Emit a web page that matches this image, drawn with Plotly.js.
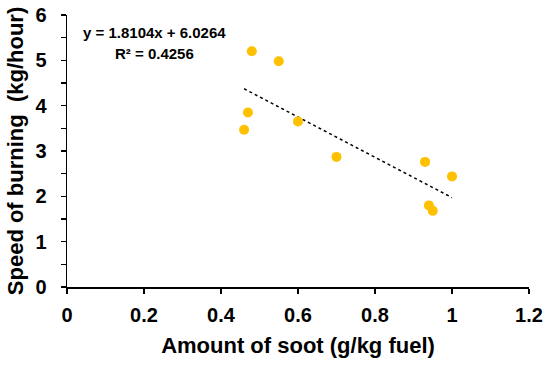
<!DOCTYPE html>
<html>
<head>
<meta charset="utf-8">
<script src="https://cdn.plot.ly/plotly-3.0.1.min.js"></script>
<style>
html,body{margin:0;padding:0;background:#fff;}
#chart{width:550px;height:365px;}
</style>
</head>
<body>
<div id="chart"></div>
<script>
// Data
const sootAmount = [0.48, 0.55, 0.47, 0.46, 0.60, 0.70, 0.93, 1.00, 0.94, 0.95];
const burnSpeed  = [5.20, 4.98, 3.85, 3.47, 3.65, 2.87, 2.76, 2.44, 1.80, 1.68];
const xTickVals = [0, 0.2, 0.4, 0.6, 0.8, 1, 1.2];
const xTickText = ['0', '0.2', '0.4', '0.6', '0.8', '1', '1.2'];
const yTickVals = [0, 1, 2, 3, 4, 5, 6];
const yTickText = ['0', '1', '2', '3', '4', '5', '6'];
const equationText = 'y = 1.8104x + 6.0264';
const r2Text = 'R\u00B2 = 0.4256';

// Linear least-squares trendline computed from the data
const n = sootAmount.length;
const mx = sootAmount.reduce((a, b) => a + b, 0) / n;
const my = burnSpeed.reduce((a, b) => a + b, 0) / n;
let sxy = 0, sxx = 0;
for (let i = 0; i < n; i++) {
  sxy += (sootAmount[i] - mx) * (burnSpeed[i] - my);
  sxx += (sootAmount[i] - mx) ** 2;
}
const slope = sxy / sxx;
const intercept = my - slope * mx;
const trendX = [Math.min(...sootAmount), Math.max(...sootAmount)];
const trendY = trendX.map(v => slope * v + intercept);

const font = 'Liberation Sans, Arial, sans-serif';
const b = s => '<b>' + s + '</b>';

const traces = [
  {x: trendX, y: trendY, mode: 'lines', type: 'scatter', line: {color: '#000000', width: 1.5, dash: 'dot'}, hoverinfo: 'skip', showlegend: false},
  {x: sootAmount, y: burnSpeed, mode: 'markers', type: 'scatter', marker: {color: '#FFC000', size: 10}, showlegend: false}
];

const layout = {
  width: 550, height: 365,
  margin: {l: 67, r: 21, t: 15, b: 78},
  paper_bgcolor: '#ffffff', plot_bgcolor: '#ffffff',
  font: {family: font, color: '#000000'},
  showlegend: false,
  xaxis: {
    range: [0, 1.2], tickvals: xTickVals, ticktext: xTickText.map(b),
    ticks: 'outside', ticklen: 5, tickwidth: 1.5, tickcolor: '#000',
    showline: true, linecolor: '#000', linewidth: 1.5, showgrid: false, zeroline: false,
    ticklabelstandoff: 4,
    tickfont: {family: font, size: 20, color: '#000', weight: 700},
    title: {text: b('Amount of soot (g/kg fuel)'), font: {family: font, size: 22, color: '#000'}, standoff: 13}
  },
  yaxis: {
    range: [0, 6], tickvals: yTickVals, ticktext: yTickText.map(b),
    ticks: 'outside', ticklen: 5, tickwidth: 1.5, tickcolor: '#000',
    minor: {dtick: 0.5, ticks: 'outside', ticklen: 5, tickwidth: 1.5, tickcolor: '#000', showgrid: false},
    showline: true, linecolor: '#000', linewidth: 1.5, showgrid: false, zeroline: false,
    ticklabelstandoff: 10,
    tickfont: {family: font, size: 20, color: '#000', weight: 700},
    title: {text: b('Speed of burning  (kg/hour)'), font: {family: font, size: 22, color: '#000'}, standoff: 5}
  },
  annotations: [
    {x: 0.228, y: 5.62, xref: 'x', yref: 'y', text: b(equationText), showarrow: false, font: {family: font, size: 15, color: '#000'}},
    {x: 0.228, y: 5.16, xref: 'x', yref: 'y', text: b(r2Text), showarrow: false, font: {family: font, size: 15, color: '#000'}}
  ]
};

Plotly.newPlot('chart', traces, layout, {displayModeBar: false, staticPlot: true});
</script>
</body>
</html>
